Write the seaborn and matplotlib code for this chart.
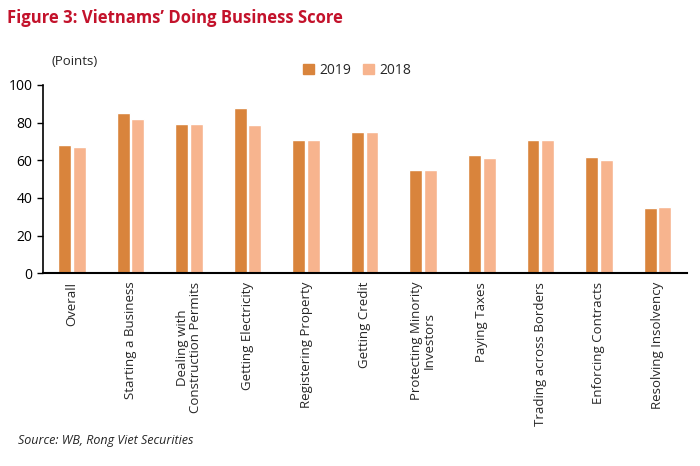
import pandas as pd
import matplotlib.pyplot as plt
import seaborn as sns
from matplotlib.patches import Patch

# Doing Business scores
categories = ['Overall', 'Starting a Business', 'Dealing with\nConstruction Permits',
              'Getting Electricity', 'Registering Property', 'Getting Credit',
              'Protecting Minority\nInvestors', 'Paying Taxes', 'Trading across Borders',
              'Enforcing Contracts', 'Resolving Insolvency']
score_2019 = [68.2, 84.8, 79.3, 87.9, 70.9, 75.0, 55.0, 62.8, 70.7, 61.9, 34.9]
score_2018 = [66.9, 81.9, 79.3, 78.7, 70.6, 75.0, 55.0, 61.0, 70.8, 60.1, 35.1]
years = ['2019', '2018']

df = pd.concat([
    pd.DataFrame({'category': categories, 'score': score_2019, 'year': '2019'}),
    pd.DataFrame({'category': categories, 'score': score_2018, 'year': '2018'}),
])

sns.set_style('white')
plt.rcParams['font.family'] = ['Open Sans', 'DejaVu Sans']

fig = plt.figure(figsize=(7, 4.66), dpi=100)
ax = fig.add_axes([0.061, 0.4135, 0.92, 0.4045])

palette = {'2019': '#D9843C', '2018': '#F7B48E'}
sns.barplot(data=df, x='category', y='score', hue='year', hue_order=years,
            palette=palette, width=0.5, gap=0.12, ax=ax, saturation=1, legend=False)

ax.set_xlim(-0.5, 10.5)
ax.set_ylim(0, 100)
ax.set_yticks(range(0, 101, 20))
ax.set_xlabel('')
ax.set_ylabel('')
ax.tick_params(axis='y', length=4, width=1, direction='out', left=True, labelsize=10, colors='black')
ax.tick_params(axis='x', length=0, labelsize=9.5, pad=6)
ax.set_xticks(range(len(categories)))
ax.set_xticklabels(categories, rotation=90, ha='center', va='top', linespacing=1.0)
sns.despine(ax=ax)
ax.spines['left'].set_color('black')
ax.spines['left'].set_linewidth(1.2)
ax.spines['bottom'].set_color('black')
ax.spines['bottom'].set_linewidth(1.5)

# legend squares
handles = [Patch(color=palette[y], label=y) for y in years]
fig.legend(handles=handles, loc='center', bbox_to_anchor=(0.51, 0.849), ncol=2,
           frameon=False, fontsize=10, handlelength=0.8, handleheight=0.8,
           handletextpad=0.4, columnspacing=0.8)

fig.text(0.074, 0.868, '(Points)', fontsize=9.5, ha='left', va='center')
fig.text(0.010, 0.961, 'Figure 3: Vietnams\u2019 Doing Business Score', fontsize=12,
         fontweight='bold', color='#C3122B', ha='left', va='center')
fig.text(0.026, 0.055, 'Source: WB, Rong Viet Securities', fontsize=9,
         style='italic', ha='left', va='center')

fig.savefig('out.png', dpi=100)
